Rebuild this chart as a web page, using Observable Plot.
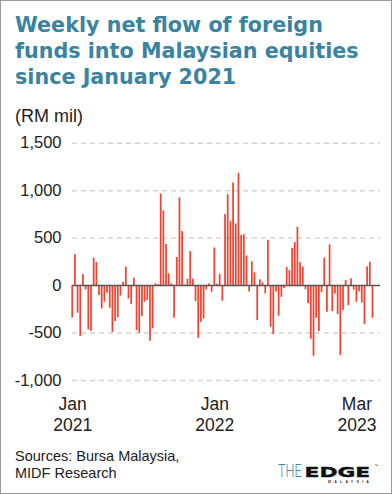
<!DOCTYPE html>
<html>
<head>
<meta charset="utf-8">
<script src="https://cdn.jsdelivr.net/npm/d3@7"></script>
<script src="https://cdn.jsdelivr.net/npm/@observablehq/plot@0.6"></script>
<style>
  html, body { margin: 0; padding: 0; background: #fff; }
  #wrap { position: relative; width: 392px; height: 494px; overflow: hidden; background: #fff; }
  #frame { position: absolute; left: 0; top: 0; width: 392px; height: 494px; box-sizing: border-box; border: 1px solid #9a9a9a; pointer-events: none; }
  #title { position: absolute; left: 15px; top: 13px; width: 375px; font-family: "DejaVu Sans", sans-serif; font-weight: bold; font-size: 20.7px; line-height: 25.8px; color: #3a83a1; letter-spacing: 0px; }
  #unit { position: absolute; left: 15px; top: 106px; font-family: "Liberation Sans", Arial, sans-serif; font-size: 18px; line-height: 20px; color: #222; }
  #chart { position: absolute; left: 0; top: 130px; }
  #source { position: absolute; left: 15px; top: 448px; font-family: "Liberation Sans", Arial, sans-serif; font-size: 14.5px; line-height: 17.3px; color: #222; }
  #logo { position: absolute; left: 0; top: 0; }
</style>
</head>
<body>
<div id="wrap">
  <div id="title">Weekly net flow of foreign funds into Malaysian equities since January 2021</div>
  <div id="unit">(RM mil)</div>
  <div id="chart"></div>
  <div id="source">Sources: Bursa Malaysia,<br>MIDF Research</div>
  <svg id="logo" width="392" height="494">
    <text transform="translate(278,477) scale(1,1.45)" font-family="Roboto, 'Liberation Sans'" font-weight="300" font-size="12.6" fill="#3a8fb0">THE</text>
    <text transform="translate(304.5,476.7) scale(1,0.68)" font-family="'DejaVu Sans'" font-weight="bold" font-size="21.8" fill="#111" stroke="#111" stroke-width="0.6">EDGE</text>
    <text x="374" y="467" font-family="'Liberation Sans'" font-size="4" fill="#333">™</text>
    <text x="328" y="483" font-family="'Liberation Sans'" font-weight="bold" font-size="3.6" letter-spacing="3.2" fill="#333">MALAYSIA</text>
  </svg>
  <div id="frame"></div>
</div>
<script>
// Weekly net foreign flow, RM mil (Jan 2021 – Mar 2023)
const weeklyFlow = [
  -340, 326, -291, -537, 116, -46, -467, -481, 288, 242,
  -105, -246, -176, -81, -239, -495, -379, -340, -109, 35,
  193, -140, -200, 77, -474, -502, -326, -176, -158, -586,
  -456, 18, 10, 965, 786, 432, 123, 18, -344, 295,
  923, 569, 5, 67, 358, 67, -168, -555, -386, -351,
  -46, 18, -70, 397, 14, 116, -165, 748, 958, 677,
  1081, 649, 1183, 527, 537, 312, -67, 249, 133, -369,
  60, 28, -88, 477, -439, -516, -67, -323, -123, -32,
  193, 158, 390, 453, 614, 242, 193, -46, -190, -565,
  -744, -344, -484, -74, 291, -281, 428, -274, -88, -305,
  -737, -263, 53, -211, 70, -49, -176, -67, -183, -411,
  197, 246, -344
];
const firstWeek = "2021-01-08";
const yTicks = [1500, 1000, 500, 0, -500, -1000];
const xTickWeeks = ["2021-01-08", "2022-01-14", "2023-01-20"];
const xTickLabels = ["Jan\n2021", "Jan\n2022", "Mar\n2023"];

const fmtDay = d3.utcFormat("%Y-%m-%d");
const start = new Date(firstWeek + "T00:00:00Z");
const weeks = weeklyFlow.map((_, i) => fmtDay(d3.utcDay.offset(start, 7 * i)));
const data = weeklyFlow.map((v, i) => ({week: weeks[i], value: v}));

const chart = Plot.plot({
  width: 392,
  height: 300,
  marginLeft: 72,
  marginRight: 12,
  marginTop: 12,
  marginBottom: 50,
  style: {fontFamily: "'Liberation Sans', Arial, sans-serif", color: "#222", background: "transparent", overflow: "visible"},
  x: {type: "band", domain: weeks, range: [70.4, 374.3], padding: 0.35, axis: null},
  y: {domain: [-1000, 1500], range: [250, 12.7], axis: null},
  marks: [
    Plot.ruleY(yTicks.filter(d => d !== 0), {stroke: "#d4d4d4", strokeWidth: 1.5, strokeDasharray: "5,4"}),
    Plot.barY(data, {x: "week", y: "value", fill: "#ee4433"}),
    Plot.ruleY([0], {stroke: "#555", strokeWidth: 1.5}),
    Plot.axisY(yTicks, {tickSize: 0, tickPadding: 11, fontSize: 16.5, label: null,
      tickFormat: d => (d < 0 ? "-" : "") + d3.format(",")(Math.abs(d))}),
    Plot.axisX(xTickWeeks, {tickSize: 0, tickPadding: 15, fontSize: 17.5, lineHeight: 1.18, label: null,
      tickFormat: d => xTickLabels[xTickWeeks.indexOf(d)]})
  ]
});
document.getElementById("chart").appendChild(chart);
</script>
</body>
</html>
